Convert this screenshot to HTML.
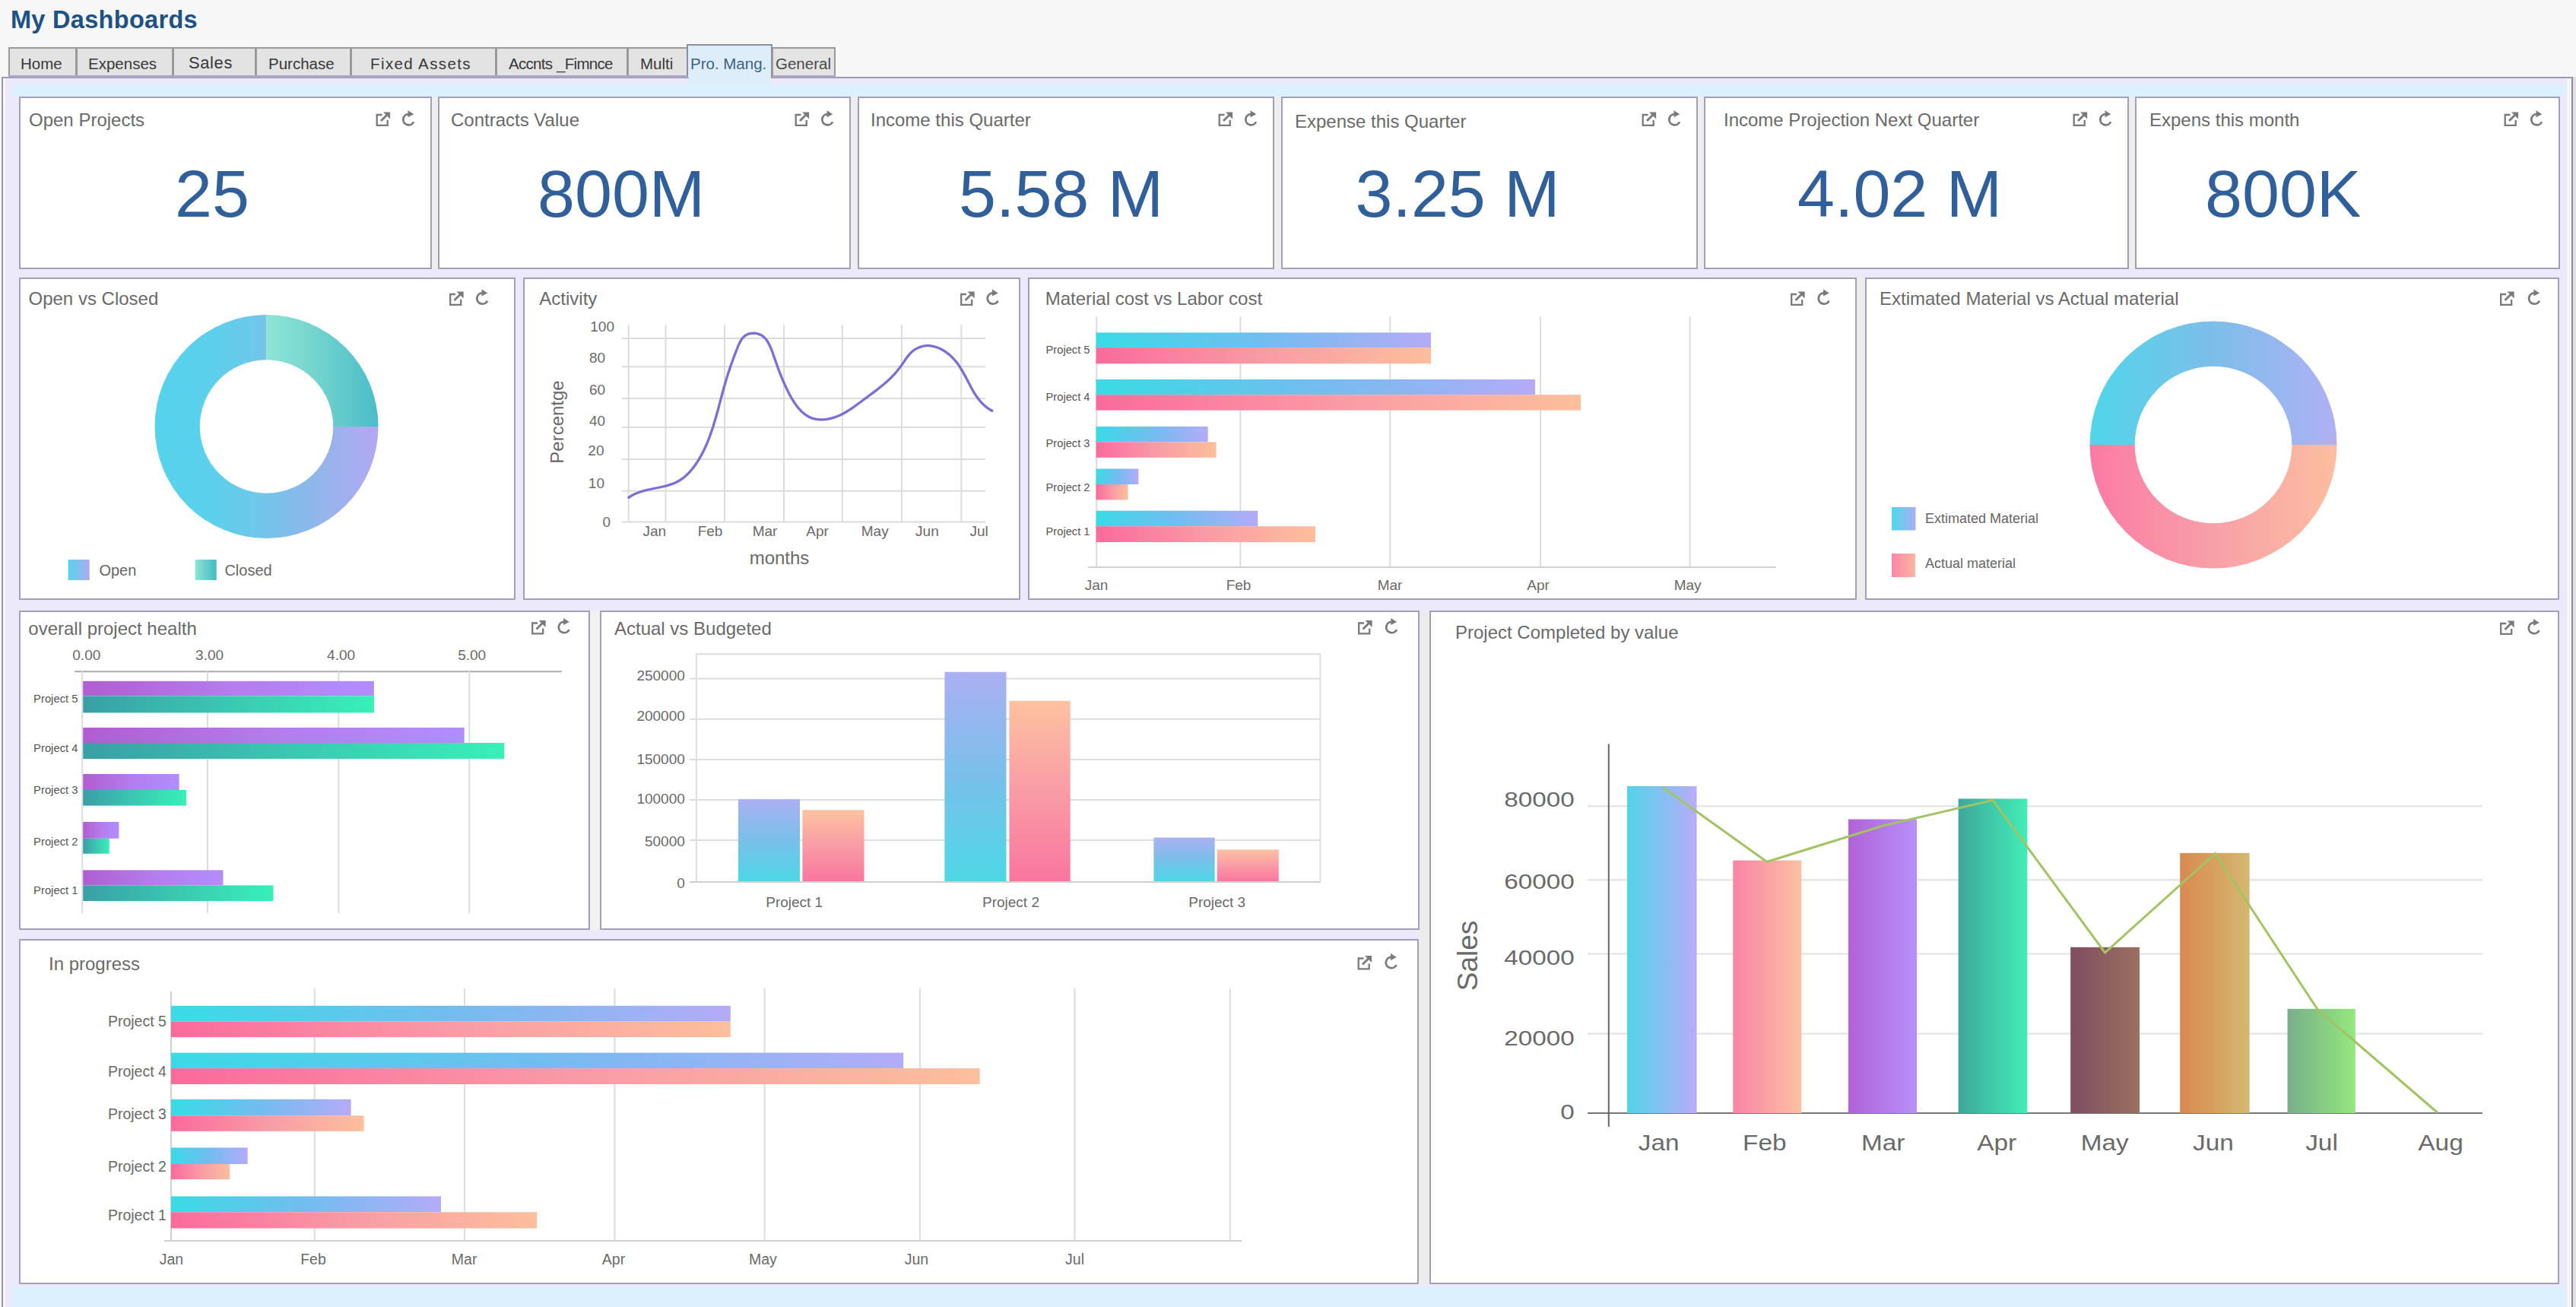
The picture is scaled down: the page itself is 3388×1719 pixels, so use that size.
<!DOCTYPE html><html><head><meta charset="utf-8"><title>My Dashboards</title><style>
*{box-sizing:border-box;margin:0;padding:0}
html,body{width:3388px;height:1719px;overflow:hidden;background:#f7f7f7;font-family:"Liberation Sans", Arial, sans-serif}
.abs{position:absolute}
.h1{position:absolute;left:14px;top:4px;font-size:32.5px;font-weight:bold;color:#1e5184;letter-spacing:0.3px;line-height:44px;white-space:nowrap}
.tab{position:absolute;top:62px;height:40px;background:#e3e3e3;border:2px solid #9a9a9a;border-bottom:none;font-size:20.5px;color:#383838;line-height:38px;white-space:nowrap}
.tab span{position:absolute;top:0.5px}
.panel{position:absolute;left:2px;top:101px;width:3382px;height:1630px;background:#ece9fb;border-top:2px solid #9b99b3;border-left:2px solid #9896ae;border-right:2px solid #8e8e9e}
.card{position:absolute;background:#fff;border:2px solid #a19fb9}
.ttl{position:absolute;font-size:24px;color:#6a6a6a;white-space:nowrap;line-height:24px}
.kpi{position:absolute;font-size:88px;color:#30609c;white-space:nowrap;line-height:88px}
svg{position:absolute;overflow:visible}
svg text{font-family:"Liberation Sans", Arial, sans-serif}

</style></head><body>
<div class="h1">My Dashboards</div>
<div class="panel"></div>
<div class="abs" style="left:16px;top:111px;width:3359px;height:16px;background:#ddf0fd"></div>
<div class="abs" style="left:16px;top:1692px;width:3359px;height:27px;background:#ddf0fd"></div>
<div class="abs" style="left:3376px;top:103px;width:6px;height:1616px;background:#f4f4f4"></div>
<div class="abs" style="left:3384px;top:101px;width:4px;height:1618px;background:#e2e2e2"></div>
<div class="abs" style="left:4px;top:103px;width:3px;height:1616px;background:#f8f7fe"></div>
<div class="tab" style="left:11px;width:90px"><span style="left:14px;">Home</span></div>
<div class="tab" style="left:100px;width:128px"><span style="left:14px;">Expenses</span></div>
<div class="tab" style="left:227px;width:110px"><span style="left:19px;font-size:22px;letter-spacing:0.6px;top:0px">Sales</span></div>
<div class="tab" style="left:336px;width:126px"><span style="left:15px;">Purchase</span></div>
<div class="tab" style="left:461px;width:192px"><span style="left:24px;letter-spacing:1.4px">Fixed Assets</span></div>
<div class="tab" style="left:652px;width:174px"><span style="left:15px;letter-spacing:-0.7px">Accnts<span style="position:static;letter-spacing:0"> </span>_Fimnce</span></div>
<div class="tab" style="left:825px;width:80px"><span style="left:15px;">Multi</span></div>
<div class="tab" style="left:903px;width:113px;top:58px;height:44px;background:#ddeefa;border-color:#8e8e9e;color:#3f6283;line-height:46px"><span style="left:3px;font-size:20.5px">Pro. Mang.</span></div>
<div class="tab" style="left:1015px;width:84px;background:#e4e4e4;color:#4a4a4a;font-size:20.5px"><span style="left:3px">General</span></div>
<div class="abs" style="left:906px;top:100px;width:108px;height:12px;background:#ddeefa"></div>
<div class="abs" style="left:11px;top:99px;width:893px;height:3px;background:#a9a6c8"></div>
<div class="abs" style="left:1016px;top:99px;width:83px;height:3px;background:#a9a6c8"></div>
<div class="abs" style="left:568px;top:127px;width:2799px;height:227px;background:#eeeeee"></div>
<div class="card" style="left:25px;top:127px;width:543px;height:227px;"></div>
<div class="ttl" style="left:38.0px;top:146.4px;font-size:24px;line-height:24px;color:#6a6a6a">Open Projects</div>
<div class="kpi" style="left:230px;top:211.0px">25</div>
<div class="card" style="left:576px;top:127px;width:543px;height:227px;"></div>
<div class="ttl" style="left:593.0px;top:146.4px;font-size:24px;line-height:24px;color:#6a6a6a">Contracts Value</div>
<div class="kpi" style="left:707px;top:211.0px">800M</div>
<div class="card" style="left:1128px;top:127px;width:548px;height:227px;"></div>
<div class="ttl" style="left:1145.0px;top:146.4px;font-size:24px;line-height:24px;color:#6a6a6a">Income this Quarter</div>
<div class="kpi" style="left:1261px;top:211.0px">5.58 M</div>
<div class="card" style="left:1685px;top:127px;width:548px;height:227px;"></div>
<div class="ttl" style="left:1703.0px;top:148.2px;font-size:24px;line-height:24px;color:#6a6a6a">Expense this Quarter</div>
<div class="kpi" style="left:1782.5px;top:211.0px">3.25 M</div>
<div class="card" style="left:2241px;top:127px;width:559px;height:227px;"></div>
<div class="ttl" style="left:2267.0px;top:146.4px;font-size:24px;line-height:24px;color:#6a6a6a">Income Projection Next Quarter</div>
<div class="kpi" style="left:2364px;top:211.0px">4.02 M</div>
<div class="card" style="left:2808px;top:127px;width:559px;height:227px;"></div>
<div class="ttl" style="left:2827.0px;top:146.4px;font-size:24px;line-height:24px;color:#6a6a6a">Expens this month</div>
<div class="kpi" style="left:2900px;top:211.0px">800K</div>
<div class="card" style="left:25px;top:365px;width:653px;height:424px;"></div>
<div class="ttl" style="left:37.5px;top:380.7px;font-size:24px;line-height:24px;color:#6a6a6a">Open vs Closed</div>
<div class="card" style="left:688px;top:365px;width:654px;height:424px;"></div>
<div class="ttl" style="left:709.3px;top:380.7px;font-size:24px;line-height:24px;color:#6a6a6a">Activity</div>
<div class="card" style="left:1352px;top:365px;width:1090px;height:424px;"></div>
<div class="ttl" style="left:1374.7px;top:380.7px;font-size:24px;line-height:24px;color:#6a6a6a">Material cost vs Labor cost</div>
<div class="abs" style="left:2442px;top:365px;width:11px;height:424px;background:#ededed"></div>
<div class="card" style="left:2453px;top:365px;width:913px;height:424px;"></div>
<div class="ttl" style="left:2472.0px;top:380.7px;font-size:24px;line-height:24px;color:#6a6a6a">Extimated Material vs Actual material</div>
<div class="abs" style="left:776px;top:803px;width:13px;height:420px;background:#f2f2f2"></div>
<div class="abs" style="left:1866px;top:803px;width:14px;height:886px;background:#ececec"></div>
<div class="card" style="left:25px;top:803px;width:751px;height:420px;"></div>
<div class="ttl" style="left:37.3px;top:814.7px;font-size:24px;line-height:24px;color:#6a6a6a">overall project health</div>
<div class="card" style="left:789px;top:803px;width:1078px;height:420px;"></div>
<div class="ttl" style="left:808.0px;top:815.3px;font-size:24px;line-height:24px;color:#6a6a6a">Actual vs Budgeted</div>
<div class="card" style="left:1880px;top:803px;width:1486px;height:886px;"></div>
<div class="ttl" style="left:1914.0px;top:820.2px;font-size:24px;line-height:24px;color:#6a6a6a">Project Completed by value</div>
<div class="card" style="left:25px;top:1235px;width:1841px;height:454px;"></div>
<div class="ttl" style="left:64.0px;top:1256.4px;font-size:24px;line-height:24px;color:#6a6a6a">In progress</div>
<svg style="left:0;top:0;pointer-events:none" width="3388" height="1719" viewBox="0 0 3388 1719">
<defs><linearGradient id="g1" x1="0" y1="0" x2="1" y2="0"><stop offset="0" stop-color="#55d4ec"/><stop offset="0.25" stop-color="#5cd0ec"/><stop offset="0.45" stop-color="#6ec8ea"/><stop offset="0.6" stop-color="#80bdea"/><stop offset="0.78" stop-color="#98b3ec"/><stop offset="1" stop-color="#b2a8f3"/></linearGradient><linearGradient id="g2" x1="0" y1="0" x2="1" y2="0"><stop offset="0" stop-color="#8fe5d6"/><stop offset="0.5" stop-color="#6fd2cd"/><stop offset="1" stop-color="#4bbdc8"/></linearGradient><linearGradient id="g3" x1="0" y1="0" x2="1" y2="0"><stop offset="0" stop-color="#55d4ec"/><stop offset="1" stop-color="#aeaaf1"/></linearGradient><linearGradient id="g4" x1="0" y1="0" x2="1" y2="0"><stop offset="0" stop-color="#8fe5d6"/><stop offset="1" stop-color="#45b9c3"/></linearGradient><linearGradient id="g5" x1="0" y1="0" x2="1" y2="0"><stop offset="0" stop-color="#3adbe6"/><stop offset="0.5" stop-color="#72bdf0"/><stop offset="1" stop-color="#b4abf8"/></linearGradient><linearGradient id="g6" x1="0" y1="0" x2="1" y2="0"><stop offset="0" stop-color="#fb6a9c"/><stop offset="0.5" stop-color="#f99ba6"/><stop offset="1" stop-color="#fdbf9c"/></linearGradient><linearGradient id="g7" x1="0" y1="0" x2="1" y2="0"><stop offset="0" stop-color="#3adbe6"/><stop offset="0.5" stop-color="#72bdf0"/><stop offset="1" stop-color="#b4abf8"/></linearGradient><linearGradient id="g8" x1="0" y1="0" x2="1" y2="0"><stop offset="0" stop-color="#fb6a9c"/><stop offset="0.5" stop-color="#f99ba6"/><stop offset="1" stop-color="#fdbf9c"/></linearGradient><linearGradient id="g9" x1="0" y1="0" x2="1" y2="0"><stop offset="0" stop-color="#3adbe6"/><stop offset="0.5" stop-color="#72bdf0"/><stop offset="1" stop-color="#b4abf8"/></linearGradient><linearGradient id="g10" x1="0" y1="0" x2="1" y2="0"><stop offset="0" stop-color="#fb6a9c"/><stop offset="0.5" stop-color="#f99ba6"/><stop offset="1" stop-color="#fdbf9c"/></linearGradient><linearGradient id="g11" x1="0" y1="0" x2="1" y2="0"><stop offset="0" stop-color="#3adbe6"/><stop offset="0.5" stop-color="#72bdf0"/><stop offset="1" stop-color="#b4abf8"/></linearGradient><linearGradient id="g12" x1="0" y1="0" x2="1" y2="0"><stop offset="0" stop-color="#fb6a9c"/><stop offset="0.5" stop-color="#f99ba6"/><stop offset="1" stop-color="#fdbf9c"/></linearGradient><linearGradient id="g13" x1="0" y1="0" x2="1" y2="0"><stop offset="0" stop-color="#3adbe6"/><stop offset="0.5" stop-color="#72bdf0"/><stop offset="1" stop-color="#b4abf8"/></linearGradient><linearGradient id="g14" x1="0" y1="0" x2="1" y2="0"><stop offset="0" stop-color="#fb6a9c"/><stop offset="0.5" stop-color="#f99ba6"/><stop offset="1" stop-color="#fdbf9c"/></linearGradient><linearGradient id="g15" x1="0" y1="0" x2="1" y2="0"><stop offset="0" stop-color="#50d6ea"/><stop offset="0.5" stop-color="#7dbeea"/><stop offset="1" stop-color="#b0b0f4"/></linearGradient><linearGradient id="g16" x1="0" y1="0" x2="1" y2="0"><stop offset="0" stop-color="#fb7aa5"/><stop offset="0.5" stop-color="#f8a0a8"/><stop offset="1" stop-color="#fcbea0"/></linearGradient><linearGradient id="g17" x1="0" y1="0" x2="1" y2="0"><stop offset="0" stop-color="#50d6ea"/><stop offset="1" stop-color="#aab0f2"/></linearGradient><linearGradient id="g18" x1="0" y1="0" x2="1" y2="0"><stop offset="0" stop-color="#fb86a8"/><stop offset="1" stop-color="#fcb5a0"/></linearGradient><linearGradient id="g19" x1="0" y1="0" x2="1" y2="0"><stop offset="0" stop-color="#b05dd0"/><stop offset="0.5" stop-color="#b57cec"/><stop offset="1" stop-color="#b28dfd"/></linearGradient><linearGradient id="g20" x1="0" y1="0" x2="1" y2="0"><stop offset="0" stop-color="#3a9fa6"/><stop offset="0.5" stop-color="#3bc8b2"/><stop offset="1" stop-color="#38f0b8"/></linearGradient><linearGradient id="g21" x1="0" y1="0" x2="1" y2="0"><stop offset="0" stop-color="#b05dd0"/><stop offset="0.5" stop-color="#b57cec"/><stop offset="1" stop-color="#b28dfd"/></linearGradient><linearGradient id="g22" x1="0" y1="0" x2="1" y2="0"><stop offset="0" stop-color="#3a9fa6"/><stop offset="0.5" stop-color="#3bc8b2"/><stop offset="1" stop-color="#38f0b8"/></linearGradient><linearGradient id="g23" x1="0" y1="0" x2="1" y2="0"><stop offset="0" stop-color="#b05dd0"/><stop offset="0.5" stop-color="#b57cec"/><stop offset="1" stop-color="#b28dfd"/></linearGradient><linearGradient id="g24" x1="0" y1="0" x2="1" y2="0"><stop offset="0" stop-color="#3a9fa6"/><stop offset="0.5" stop-color="#3bc8b2"/><stop offset="1" stop-color="#38f0b8"/></linearGradient><linearGradient id="g25" x1="0" y1="0" x2="1" y2="0"><stop offset="0" stop-color="#b05dd0"/><stop offset="0.5" stop-color="#b57cec"/><stop offset="1" stop-color="#b28dfd"/></linearGradient><linearGradient id="g26" x1="0" y1="0" x2="1" y2="0"><stop offset="0" stop-color="#3a9fa6"/><stop offset="0.5" stop-color="#3bc8b2"/><stop offset="1" stop-color="#38f0b8"/></linearGradient><linearGradient id="g27" x1="0" y1="0" x2="1" y2="0"><stop offset="0" stop-color="#b05dd0"/><stop offset="0.5" stop-color="#b57cec"/><stop offset="1" stop-color="#b28dfd"/></linearGradient><linearGradient id="g28" x1="0" y1="0" x2="1" y2="0"><stop offset="0" stop-color="#3a9fa6"/><stop offset="0.5" stop-color="#3bc8b2"/><stop offset="1" stop-color="#38f0b8"/></linearGradient><linearGradient id="g29" x1="0" y1="1" x2="0" y2="0"><stop offset="0" stop-color="#4ed8e6"/><stop offset="0.5" stop-color="#79c0ea"/><stop offset="1" stop-color="#abb0f2"/></linearGradient><linearGradient id="g30" x1="0" y1="1" x2="0" y2="0"><stop offset="0" stop-color="#f9769f"/><stop offset="0.5" stop-color="#f99ca6"/><stop offset="1" stop-color="#fdc2a0"/></linearGradient><linearGradient id="g31" x1="0" y1="1" x2="0" y2="0"><stop offset="0" stop-color="#4ed8e6"/><stop offset="0.5" stop-color="#79c0ea"/><stop offset="1" stop-color="#abb0f2"/></linearGradient><linearGradient id="g32" x1="0" y1="1" x2="0" y2="0"><stop offset="0" stop-color="#f9769f"/><stop offset="0.5" stop-color="#f99ca6"/><stop offset="1" stop-color="#fdc2a0"/></linearGradient><linearGradient id="g33" x1="0" y1="1" x2="0" y2="0"><stop offset="0" stop-color="#4ed8e6"/><stop offset="0.5" stop-color="#79c0ea"/><stop offset="1" stop-color="#abb0f2"/></linearGradient><linearGradient id="g34" x1="0" y1="1" x2="0" y2="0"><stop offset="0" stop-color="#f9769f"/><stop offset="0.5" stop-color="#f99ca6"/><stop offset="1" stop-color="#fdc2a0"/></linearGradient><linearGradient id="g35" x1="0" y1="0" x2="1" y2="0"><stop offset="0" stop-color="#52d4e8"/><stop offset="1" stop-color="#b8acfa"/></linearGradient><linearGradient id="g36" x1="0" y1="0" x2="1" y2="0"><stop offset="0" stop-color="#fa84a8"/><stop offset="1" stop-color="#fcc0a2"/></linearGradient><linearGradient id="g37" x1="0" y1="0" x2="1" y2="0"><stop offset="0" stop-color="#b062d8"/><stop offset="1" stop-color="#b790fa"/></linearGradient><linearGradient id="g38" x1="0" y1="0" x2="1" y2="0"><stop offset="0" stop-color="#3ea69c"/><stop offset="1" stop-color="#41eeb6"/></linearGradient><linearGradient id="g39" x1="0" y1="0" x2="1" y2="0"><stop offset="0" stop-color="#7c4e60"/><stop offset="1" stop-color="#9c7060"/></linearGradient><linearGradient id="g40" x1="0" y1="0" x2="1" y2="0"><stop offset="0" stop-color="#da8950"/><stop offset="1" stop-color="#d4b870"/></linearGradient><linearGradient id="g41" x1="0" y1="0" x2="1" y2="0"><stop offset="0" stop-color="#78ae8a"/><stop offset="1" stop-color="#94e87e"/></linearGradient><linearGradient id="g42" x1="0" y1="0" x2="1" y2="0"><stop offset="0" stop-color="#3adbe6"/><stop offset="0.5" stop-color="#72bdf0"/><stop offset="1" stop-color="#b4abf8"/></linearGradient><linearGradient id="g43" x1="0" y1="0" x2="1" y2="0"><stop offset="0" stop-color="#fb6a9c"/><stop offset="0.5" stop-color="#f99ba6"/><stop offset="1" stop-color="#fdbf9c"/></linearGradient><linearGradient id="g44" x1="0" y1="0" x2="1" y2="0"><stop offset="0" stop-color="#3adbe6"/><stop offset="0.5" stop-color="#72bdf0"/><stop offset="1" stop-color="#b4abf8"/></linearGradient><linearGradient id="g45" x1="0" y1="0" x2="1" y2="0"><stop offset="0" stop-color="#fb6a9c"/><stop offset="0.5" stop-color="#f99ba6"/><stop offset="1" stop-color="#fdbf9c"/></linearGradient><linearGradient id="g46" x1="0" y1="0" x2="1" y2="0"><stop offset="0" stop-color="#3adbe6"/><stop offset="0.5" stop-color="#72bdf0"/><stop offset="1" stop-color="#b4abf8"/></linearGradient><linearGradient id="g47" x1="0" y1="0" x2="1" y2="0"><stop offset="0" stop-color="#fb6a9c"/><stop offset="0.5" stop-color="#f99ba6"/><stop offset="1" stop-color="#fdbf9c"/></linearGradient><linearGradient id="g48" x1="0" y1="0" x2="1" y2="0"><stop offset="0" stop-color="#3adbe6"/><stop offset="0.5" stop-color="#72bdf0"/><stop offset="1" stop-color="#b4abf8"/></linearGradient><linearGradient id="g49" x1="0" y1="0" x2="1" y2="0"><stop offset="0" stop-color="#fb6a9c"/><stop offset="0.5" stop-color="#f99ba6"/><stop offset="1" stop-color="#fdbf9c"/></linearGradient><linearGradient id="g50" x1="0" y1="0" x2="1" y2="0"><stop offset="0" stop-color="#3adbe6"/><stop offset="0.5" stop-color="#72bdf0"/><stop offset="1" stop-color="#b4abf8"/></linearGradient><linearGradient id="g51" x1="0" y1="0" x2="1" y2="0"><stop offset="0" stop-color="#fb6a9c"/><stop offset="0.5" stop-color="#f99ba6"/><stop offset="1" stop-color="#fdbf9c"/></linearGradient></defs>
<g transform="translate(494.5,146.5) scale(1.0)" fill="none" stroke="#7a7a7a"><path d="M8 4.5 H1.2 V18.3 H15.2 V11.5" stroke-width="2.3"/><path d="M6.5 12.5 L16 3" stroke-width="2.8"/><path d="M9.5 1 H18.6 V10 Z" fill="#7a7a7a" stroke="none"/></g><path d="M536.87 150.03 A7.20 7.20 0 1 0 544.03 160.24" fill="none" stroke="#7a7a7a" stroke-width="2.80"/><path d="M536.50 145.20 L544.30 150.20 L536.50 154.20 Z" fill="#7a7a7a"/><g transform="translate(1045.5,146.5) scale(1.0)" fill="none" stroke="#7a7a7a"><path d="M8 4.5 H1.2 V18.3 H15.2 V11.5" stroke-width="2.3"/><path d="M6.5 12.5 L16 3" stroke-width="2.8"/><path d="M9.5 1 H18.6 V10 Z" fill="#7a7a7a" stroke="none"/></g><path d="M1087.87 150.03 A7.20 7.20 0 1 0 1095.03 160.24" fill="none" stroke="#7a7a7a" stroke-width="2.80"/><path d="M1087.50 145.20 L1095.30 150.20 L1087.50 154.20 Z" fill="#7a7a7a"/><g transform="translate(1602.5,146.5) scale(1.0)" fill="none" stroke="#7a7a7a"><path d="M8 4.5 H1.2 V18.3 H15.2 V11.5" stroke-width="2.3"/><path d="M6.5 12.5 L16 3" stroke-width="2.8"/><path d="M9.5 1 H18.6 V10 Z" fill="#7a7a7a" stroke="none"/></g><path d="M1644.87 150.03 A7.20 7.20 0 1 0 1652.03 160.24" fill="none" stroke="#7a7a7a" stroke-width="2.80"/><path d="M1644.50 145.20 L1652.30 150.20 L1644.50 154.20 Z" fill="#7a7a7a"/><g transform="translate(2159.5,146.5) scale(1.0)" fill="none" stroke="#7a7a7a"><path d="M8 4.5 H1.2 V18.3 H15.2 V11.5" stroke-width="2.3"/><path d="M6.5 12.5 L16 3" stroke-width="2.8"/><path d="M9.5 1 H18.6 V10 Z" fill="#7a7a7a" stroke="none"/></g><path d="M2201.87 150.03 A7.20 7.20 0 1 0 2209.03 160.24" fill="none" stroke="#7a7a7a" stroke-width="2.80"/><path d="M2201.50 145.20 L2209.30 150.20 L2201.50 154.20 Z" fill="#7a7a7a"/><g transform="translate(2726.5,146.5) scale(1.0)" fill="none" stroke="#7a7a7a"><path d="M8 4.5 H1.2 V18.3 H15.2 V11.5" stroke-width="2.3"/><path d="M6.5 12.5 L16 3" stroke-width="2.8"/><path d="M9.5 1 H18.6 V10 Z" fill="#7a7a7a" stroke="none"/></g><path d="M2768.87 150.03 A7.20 7.20 0 1 0 2776.03 160.24" fill="none" stroke="#7a7a7a" stroke-width="2.80"/><path d="M2768.50 145.20 L2776.30 150.20 L2768.50 154.20 Z" fill="#7a7a7a"/><g transform="translate(3293.5,146.5) scale(1.0)" fill="none" stroke="#7a7a7a"><path d="M8 4.5 H1.2 V18.3 H15.2 V11.5" stroke-width="2.3"/><path d="M6.5 12.5 L16 3" stroke-width="2.8"/><path d="M9.5 1 H18.6 V10 Z" fill="#7a7a7a" stroke="none"/></g><path d="M3335.87 150.03 A7.20 7.20 0 1 0 3343.03 160.24" fill="none" stroke="#7a7a7a" stroke-width="2.80"/><path d="M3335.50 145.20 L3343.30 150.20 L3335.50 154.20 Z" fill="#7a7a7a"/><g transform="translate(591.0,382.5) scale(1.0)" fill="none" stroke="#7a7a7a"><path d="M8 4.5 H1.2 V18.3 H15.2 V11.5" stroke-width="2.3"/><path d="M6.5 12.5 L16 3" stroke-width="2.8"/><path d="M9.5 1 H18.6 V10 Z" fill="#7a7a7a" stroke="none"/></g><path d="M633.87 385.33 A7.20 7.20 0 1 0 641.03 395.54" fill="none" stroke="#7a7a7a" stroke-width="2.80"/><path d="M633.50 380.50 L641.30 385.50 L633.50 389.50 Z" fill="#7a7a7a"/><path d="M497.50 561.00 A147 147 0 1 1 350.50 414.00 L350.50 473.30 A87.7 87.7 0 1 0 438.20 561.00 Z" fill="url(#g1)"/><path d="M350.50 414.00 A147 147 0 0 1 497.50 561.00 L438.20 561.00 A87.7 87.7 0 0 0 350.50 473.30 Z" fill="url(#g2)"/><rect x="89.7" y="736" width="28" height="27" fill="url(#g3)"/><rect x="256.7" y="736" width="28" height="27" fill="url(#g4)"/><text x="130.4" y="757.0" font-size="20" fill="#666" text-anchor="start" font-weight="normal" >Open</text><text x="295.4" y="757.0" font-size="20" fill="#666" text-anchor="start" font-weight="normal" >Closed</text><g transform="translate(1263.0,382.5) scale(1.0)" fill="none" stroke="#7a7a7a"><path d="M8 4.5 H1.2 V18.3 H15.2 V11.5" stroke-width="2.3"/><path d="M6.5 12.5 L16 3" stroke-width="2.8"/><path d="M9.5 1 H18.6 V10 Z" fill="#7a7a7a" stroke="none"/></g><path d="M1305.37 385.33 A7.20 7.20 0 1 0 1312.53 395.54" fill="none" stroke="#7a7a7a" stroke-width="2.80"/><path d="M1305.00 380.50 L1312.80 385.50 L1305.00 389.50 Z" fill="#7a7a7a"/><line x1="826.7" y1="427.0" x2="826.7" y2="686.6" stroke="#dcdcdc" stroke-width="2"/><line x1="875.5" y1="427.0" x2="875.5" y2="686.6" stroke="#dcdcdc" stroke-width="2"/><line x1="953.0" y1="427.0" x2="953.0" y2="686.6" stroke="#dcdcdc" stroke-width="2"/><line x1="1031.0" y1="427.0" x2="1031.0" y2="686.6" stroke="#dcdcdc" stroke-width="2"/><line x1="1107.8" y1="427.0" x2="1107.8" y2="686.6" stroke="#dcdcdc" stroke-width="2"/><line x1="1185.9" y1="427.0" x2="1185.9" y2="686.6" stroke="#dcdcdc" stroke-width="2"/><line x1="1264.3" y1="427.0" x2="1264.3" y2="686.6" stroke="#dcdcdc" stroke-width="2"/><line x1="818.0" y1="444.9" x2="1296.0" y2="444.9" stroke="#dcdcdc" stroke-width="2"/><line x1="818.0" y1="482.2" x2="1296.0" y2="482.2" stroke="#dcdcdc" stroke-width="2"/><line x1="818.0" y1="524.1" x2="1296.0" y2="524.1" stroke="#dcdcdc" stroke-width="2"/><line x1="818.0" y1="561.9" x2="1296.0" y2="561.9" stroke="#dcdcdc" stroke-width="2"/><line x1="818.0" y1="604.0" x2="1296.0" y2="604.0" stroke="#dcdcdc" stroke-width="2"/><line x1="818.0" y1="645.7" x2="1296.0" y2="645.7" stroke="#dcdcdc" stroke-width="2"/><line x1="818.0" y1="686.6" x2="1296.0" y2="686.6" stroke="#dcdcdc" stroke-width="2"/><text x="808.0" y="435.8" font-size="19" fill="#6a6a6a" text-anchor="end" font-weight="normal" >100</text><text x="796.2" y="477.2" font-size="19" fill="#6a6a6a" text-anchor="end" font-weight="normal" >80</text><text x="796.2" y="518.8" font-size="19" fill="#6a6a6a" text-anchor="end" font-weight="normal" >60</text><text x="796.2" y="560.4" font-size="19" fill="#6a6a6a" text-anchor="end" font-weight="normal" >40</text><text x="794.5" y="598.8" font-size="19" fill="#6a6a6a" text-anchor="end" font-weight="normal" >20</text><text x="795.0" y="642.2" font-size="19" fill="#6a6a6a" text-anchor="end" font-weight="normal" >10</text><text x="803.0" y="693.4" font-size="19" fill="#6a6a6a" text-anchor="end" font-weight="normal" >0</text><text x="860.8" y="705.2" font-size="19" fill="#6a6a6a" text-anchor="middle" font-weight="normal" >Jan</text><text x="934.0" y="705.2" font-size="19" fill="#6a6a6a" text-anchor="middle" font-weight="normal" >Feb</text><text x="1006.0" y="705.2" font-size="19" fill="#6a6a6a" text-anchor="middle" font-weight="normal" >Mar</text><text x="1075.0" y="705.2" font-size="19" fill="#6a6a6a" text-anchor="middle" font-weight="normal" >Apr</text><text x="1150.7" y="705.2" font-size="19" fill="#6a6a6a" text-anchor="middle" font-weight="normal" >May</text><text x="1219.4" y="705.2" font-size="19" fill="#6a6a6a" text-anchor="middle" font-weight="normal" >Jun</text><text x="1287.7" y="705.2" font-size="19" fill="#6a6a6a" text-anchor="middle" font-weight="normal" >Jul</text><text x="1025.0" y="741.5" font-size="24" fill="#6a6a6a" text-anchor="middle" font-weight="normal" >months</text><text x="0" y="0" font-size="24" fill="#6a6a6a" text-anchor="middle" transform="translate(740.6 555) rotate(-90)">Percentge</text><path d="M826.9 654.4 L830.7 651.9 L834.7 649.8 L839.0 648.0 L843.5 646.5 L848.1 645.2 L852.8 644.0 L857.6 643.0 L862.4 642.0 L867.3 641.0 L872.0 640.0 L876.7 638.8 L881.3 637.4 L885.8 635.9 L890.0 634.0 L894.0 631.8 L897.8 629.2 L901.4 626.3 L904.7 623.2 L907.9 619.8 L910.9 616.3 L913.7 612.5 L916.3 608.7 L918.8 604.8 L921.2 600.7 L923.5 596.6 L925.6 592.5 L927.6 588.2 L929.5 583.9 L931.3 579.6 L933.0 575.2 L934.6 570.7 L936.2 566.2 L937.7 561.7 L939.1 557.1 L940.5 552.6 L941.8 548.0 L943.1 543.4 L944.4 538.8 L945.6 534.1 L946.8 529.5 L948.0 524.9 L949.3 520.3 L950.5 515.8 L951.7 511.2 L953.0 506.7 L954.3 502.3 L955.6 497.8 L957.0 493.4 L958.4 489.0 L959.9 484.6 L961.4 480.1 L963.0 475.7 L964.6 471.2 L966.3 466.7 L968.1 462.1 L969.9 457.5 L971.8 452.9 L974.0 448.5 L976.6 444.6 L979.9 441.5 L983.7 439.4 L988.1 438.3 L992.6 438.2 L997.0 439.0 L1001.1 440.7 L1004.7 443.3 L1007.8 446.7 L1010.4 450.7 L1012.6 455.1 L1014.6 459.7 L1016.4 464.5 L1018.0 469.3 L1019.7 473.9 L1021.3 478.4 L1022.8 482.7 L1024.4 487.0 L1026.0 491.3 L1027.7 495.5 L1029.4 499.6 L1031.2 503.8 L1033.1 508.0 L1035.1 512.2 L1037.3 516.5 L1039.6 520.9 L1042.0 525.2 L1044.7 529.4 L1047.5 533.4 L1050.5 537.2 L1053.7 540.7 L1057.2 543.8 L1060.9 546.5 L1064.8 548.7 L1069.0 550.4 L1073.5 551.4 L1078.2 551.9 L1083.0 551.9 L1087.7 551.3 L1092.4 550.4 L1096.9 549.1 L1101.3 547.5 L1105.6 545.7 L1109.8 543.5 L1113.9 541.2 L1117.9 538.6 L1121.9 536.0 L1125.8 533.2 L1129.7 530.3 L1133.5 527.5 L1137.3 524.6 L1141.2 521.8 L1145.0 518.9 L1148.7 516.1 L1152.5 513.3 L1156.2 510.4 L1159.8 507.5 L1163.4 504.5 L1166.9 501.4 L1170.3 498.3 L1173.6 495.0 L1176.8 491.6 L1179.9 488.0 L1182.9 484.3 L1185.7 480.4 L1188.5 476.4 L1191.2 472.3 L1194.1 468.4 L1197.2 464.8 L1200.6 461.6 L1204.5 458.9 L1208.7 456.9 L1213.1 455.5 L1217.6 454.7 L1222.3 454.7 L1226.9 455.3 L1231.4 456.5 L1235.8 458.3 L1240.1 460.5 L1244.2 463.1 L1248.1 466.1 L1251.7 469.3 L1255.0 472.8 L1258.1 476.5 L1260.9 480.3 L1263.5 484.3 L1265.9 488.3 L1268.2 492.5 L1270.5 496.6 L1272.7 500.8 L1274.9 505.0 L1277.1 509.2 L1279.3 513.3 L1281.7 517.3 L1284.3 521.2 L1287.0 524.9 L1289.9 528.5 L1293.1 531.8 L1296.6 534.9 L1300.4 537.8 L1304.7 540.3" fill="none" stroke="#7d6ed6" stroke-width="3.3" stroke-linecap="round" stroke-linejoin="round"/><g transform="translate(2355.0,382.5) scale(1.0)" fill="none" stroke="#7a7a7a"><path d="M8 4.5 H1.2 V18.3 H15.2 V11.5" stroke-width="2.3"/><path d="M6.5 12.5 L16 3" stroke-width="2.8"/><path d="M9.5 1 H18.6 V10 Z" fill="#7a7a7a" stroke="none"/></g><path d="M2398.37 385.33 A7.20 7.20 0 1 0 2405.53 395.54" fill="none" stroke="#7a7a7a" stroke-width="2.80"/><path d="M2398.00 380.50 L2405.80 385.50 L2398.00 389.50 Z" fill="#7a7a7a"/><line x1="1442.2" y1="416.5" x2="1442.2" y2="746.0" stroke="#dcdcdc" stroke-width="2"/><line x1="1631.3" y1="416.5" x2="1631.3" y2="746.0" stroke="#dcdcdc" stroke-width="2"/><line x1="1828.3" y1="416.5" x2="1828.3" y2="746.0" stroke="#dcdcdc" stroke-width="2"/><line x1="2026.0" y1="416.5" x2="2026.0" y2="746.0" stroke="#dcdcdc" stroke-width="2"/><line x1="2222.6" y1="416.5" x2="2222.6" y2="746.0" stroke="#dcdcdc" stroke-width="2"/><line x1="1431.0" y1="746.0" x2="2335.7" y2="746.0" stroke="#d0d0d0" stroke-width="2"/><text x="1442.0" y="775.5" font-size="19" fill="#6a6a6a" text-anchor="middle" font-weight="normal" >Jan</text><text x="1629.0" y="775.5" font-size="19" fill="#6a6a6a" text-anchor="middle" font-weight="normal" >Feb</text><text x="1828.0" y="775.5" font-size="19" fill="#6a6a6a" text-anchor="middle" font-weight="normal" >Mar</text><text x="2023.0" y="775.5" font-size="19" fill="#6a6a6a" text-anchor="middle" font-weight="normal" >Apr</text><text x="2219.6" y="775.5" font-size="19" fill="#6a6a6a" text-anchor="middle" font-weight="normal" >May</text><text x="1433.5" y="465.3" font-size="14.7" fill="#555" text-anchor="end" font-weight="normal" >Project 5</text><rect x="1441.5" y="437.4" width="440.5" height="19.8" fill="url(#g5)"/><rect x="1441.5" y="457.1" width="440.5" height="21.2" fill="url(#g6)"/><text x="1433.5" y="527.0" font-size="14.7" fill="#555" text-anchor="end" font-weight="normal" >Project 4</text><rect x="1441.5" y="499.0" width="577.5" height="20.2" fill="url(#g7)"/><rect x="1441.5" y="519.2" width="637.5" height="20.4" fill="url(#g8)"/><text x="1433.5" y="588.3" font-size="14.7" fill="#555" text-anchor="end" font-weight="normal" >Project 3</text><rect x="1441.5" y="561.0" width="147.2" height="20.4" fill="url(#g9)"/><rect x="1441.5" y="581.4" width="158.1" height="20.4" fill="url(#g10)"/><text x="1433.5" y="645.7" font-size="14.7" fill="#555" text-anchor="end" font-weight="normal" >Project 2</text><rect x="1441.5" y="616.5" width="55.9" height="20.5" fill="url(#g11)"/><rect x="1441.5" y="637.0" width="42.0" height="20.4" fill="url(#g12)"/><text x="1433.5" y="703.6" font-size="14.7" fill="#555" text-anchor="end" font-weight="normal" >Project 1</text><rect x="1441.5" y="671.7" width="212.8" height="20.5" fill="url(#g13)"/><rect x="1441.5" y="692.2" width="288.5" height="20.8" fill="url(#g14)"/><g transform="translate(3288.0,382.5) scale(1.0)" fill="none" stroke="#7a7a7a"><path d="M8 4.5 H1.2 V18.3 H15.2 V11.5" stroke-width="2.3"/><path d="M6.5 12.5 L16 3" stroke-width="2.8"/><path d="M9.5 1 H18.6 V10 Z" fill="#7a7a7a" stroke="none"/></g><path d="M3332.67 385.33 A7.20 7.20 0 1 0 3339.83 395.54" fill="none" stroke="#7a7a7a" stroke-width="2.80"/><path d="M3332.30 380.50 L3340.10 385.50 L3332.30 389.50 Z" fill="#7a7a7a"/><path d="M2748.50 585.00 A162.5 162.5 0 0 1 3073.50 585.00 L3014.30 585.00 A103.3 103.3 0 0 0 2807.70 585.00 Z" fill="url(#g15)"/><path d="M3073.50 585.00 A162.5 162.5 0 0 1 2748.50 585.00 L2807.70 585.00 A103.3 103.3 0 0 0 3014.30 585.00 Z" fill="url(#g16)"/><rect x="2488" y="667" width="31.5" height="30.5" fill="url(#g17)"/><rect x="2488" y="728" width="31" height="31" fill="url(#g18)"/><text x="2532.0" y="687.8" font-size="18" fill="#666" text-anchor="start" font-weight="normal" >Extimated Material</text><text x="2532.0" y="746.8" font-size="18" fill="#666" text-anchor="start" font-weight="normal" >Actual material</text><g transform="translate(699.0,815.0) scale(1.0)" fill="none" stroke="#7a7a7a"><path d="M8 4.5 H1.2 V18.3 H15.2 V11.5" stroke-width="2.3"/><path d="M6.5 12.5 L16 3" stroke-width="2.8"/><path d="M9.5 1 H18.6 V10 Z" fill="#7a7a7a" stroke="none"/></g><path d="M741.37 817.83 A7.20 7.20 0 1 0 748.53 828.04" fill="none" stroke="#7a7a7a" stroke-width="2.80"/><path d="M741.00 813.00 L748.80 818.00 L741.00 822.00 Z" fill="#7a7a7a"/><text x="113.8" y="868.4" font-size="19" fill="#6a6a6a" text-anchor="middle" font-weight="normal" >0.00</text><text x="275.6" y="868.4" font-size="19" fill="#6a6a6a" text-anchor="middle" font-weight="normal" >3.00</text><text x="448.6" y="868.4" font-size="19" fill="#6a6a6a" text-anchor="middle" font-weight="normal" >4.00</text><text x="620.7" y="868.4" font-size="19" fill="#6a6a6a" text-anchor="middle" font-weight="normal" >5.00</text><line x1="98.0" y1="883.2" x2="738.8" y2="883.2" stroke="#ababab" stroke-width="2"/><line x1="108.2" y1="883.0" x2="108.2" y2="1201.0" stroke="#dcdcdc" stroke-width="2"/><line x1="272.9" y1="883.0" x2="272.9" y2="1201.0" stroke="#dcdcdc" stroke-width="2"/><line x1="445.3" y1="883.0" x2="445.3" y2="1201.0" stroke="#dcdcdc" stroke-width="2"/><line x1="617.3" y1="883.0" x2="617.3" y2="1201.0" stroke="#dcdcdc" stroke-width="2"/><text x="102.5" y="924.1" font-size="14.8" fill="#555" text-anchor="end" font-weight="normal" >Project 5</text><rect x="109.2" y="895.8" width="382.7" height="19.7" fill="url(#g19)"/><rect x="109.2" y="915.5" width="382.7" height="21.9" fill="url(#g20)"/><text x="102.5" y="989.0" font-size="14.8" fill="#555" text-anchor="end" font-weight="normal" >Project 4</text><rect x="109.2" y="957.0" width="501.5" height="20.0" fill="url(#g21)"/><rect x="109.2" y="977.0" width="554.1" height="21.0" fill="url(#g22)"/><text x="102.5" y="1044.3" font-size="14.8" fill="#555" text-anchor="end" font-weight="normal" >Project 3</text><rect x="109.2" y="1018.0" width="126.4" height="21.0" fill="url(#g23)"/><rect x="109.2" y="1039.0" width="135.8" height="20.6" fill="url(#g24)"/><text x="102.5" y="1112.3" font-size="14.8" fill="#555" text-anchor="end" font-weight="normal" >Project 2</text><rect x="109.2" y="1081.0" width="47.2" height="21.8" fill="url(#g25)"/><rect x="109.2" y="1102.8" width="34.6" height="20.0" fill="url(#g26)"/><text x="102.5" y="1176.3" font-size="14.8" fill="#555" text-anchor="end" font-weight="normal" >Project 1</text><rect x="109.2" y="1144.4" width="184.3" height="20.0" fill="url(#g27)"/><rect x="109.2" y="1164.4" width="250.2" height="20.6" fill="url(#g28)"/><g transform="translate(1786.0,815.0) scale(1.0)" fill="none" stroke="#7a7a7a"><path d="M8 4.5 H1.2 V18.3 H15.2 V11.5" stroke-width="2.3"/><path d="M6.5 12.5 L16 3" stroke-width="2.8"/><path d="M9.5 1 H18.6 V10 Z" fill="#7a7a7a" stroke="none"/></g><path d="M1829.77 817.83 A7.20 7.20 0 1 0 1836.93 828.04" fill="none" stroke="#7a7a7a" stroke-width="2.80"/><path d="M1829.40 813.00 L1837.20 818.00 L1829.40 822.00 Z" fill="#7a7a7a"/><rect x="915.8" y="860.3" width="820.6" height="299.7" fill="none" stroke="#dedede" stroke-width="2"/><line x1="907.0" y1="892.4" x2="1736.4" y2="892.4" stroke="#dedede" stroke-width="2"/><line x1="907.0" y1="945.7" x2="1736.4" y2="945.7" stroke="#dedede" stroke-width="2"/><line x1="907.0" y1="999.0" x2="1736.4" y2="999.0" stroke="#dedede" stroke-width="2"/><line x1="907.0" y1="1052.0" x2="1736.4" y2="1052.0" stroke="#dedede" stroke-width="2"/><line x1="907.0" y1="1105.0" x2="1736.4" y2="1105.0" stroke="#dedede" stroke-width="2"/><line x1="907.0" y1="1160.0" x2="1736.4" y2="1160.0" stroke="#cfcfcf" stroke-width="2"/><text x="900.8" y="894.8" font-size="19" fill="#6a6a6a" text-anchor="end" font-weight="normal" >250000</text><text x="900.8" y="948.3" font-size="19" fill="#6a6a6a" text-anchor="end" font-weight="normal" >200000</text><text x="900.8" y="1004.6" font-size="19" fill="#6a6a6a" text-anchor="end" font-weight="normal" >150000</text><text x="900.8" y="1056.8" font-size="19" fill="#6a6a6a" text-anchor="end" font-weight="normal" >100000</text><text x="900.8" y="1112.6" font-size="19" fill="#6a6a6a" text-anchor="end" font-weight="normal" >50000</text><text x="900.8" y="1167.8" font-size="19" fill="#6a6a6a" text-anchor="end" font-weight="normal" >0</text><rect x="970.9" y="1051.2" width="81.1" height="107.8" fill="url(#g29)"/><rect x="1055.4" y="1065.3" width="81.1" height="93.7" fill="url(#g30)"/><rect x="1242.4" y="883.8" width="81.1" height="275.2" fill="url(#g31)"/><rect x="1327.4" y="921.8" width="80.3" height="237.2" fill="url(#g32)"/><rect x="1517.4" y="1101.6" width="80.3" height="57.4" fill="url(#g33)"/><rect x="1600.7" y="1117.4" width="81.1" height="41.6" fill="url(#g34)"/><text x="1044.7" y="1192.5" font-size="19" fill="#6a6a6a" text-anchor="middle" font-weight="normal" >Project 1</text><text x="1329.5" y="1192.5" font-size="19" fill="#6a6a6a" text-anchor="middle" font-weight="normal" >Project 2</text><text x="1600.7" y="1192.5" font-size="19" fill="#6a6a6a" text-anchor="middle" font-weight="normal" >Project 3</text><g transform="translate(3288.0,815.5) scale(1.0)" fill="none" stroke="#7a7a7a"><path d="M8 4.5 H1.2 V18.3 H15.2 V11.5" stroke-width="2.3"/><path d="M6.5 12.5 L16 3" stroke-width="2.8"/><path d="M9.5 1 H18.6 V10 Z" fill="#7a7a7a" stroke="none"/></g><path d="M3332.37 818.83 A7.20 7.20 0 1 0 3339.53 829.04" fill="none" stroke="#7a7a7a" stroke-width="2.80"/><path d="M3332.00 814.00 L3339.80 819.00 L3332.00 823.00 Z" fill="#7a7a7a"/><line x1="2088.0" y1="1060.2" x2="3265.0" y2="1060.2" stroke="#e6e6e6" stroke-width="2.5"/><line x1="2088.0" y1="1157.2" x2="3265.0" y2="1157.2" stroke="#e6e6e6" stroke-width="2.5"/><line x1="2088.0" y1="1254.5" x2="3265.0" y2="1254.5" stroke="#e6e6e6" stroke-width="2.5"/><line x1="2088.0" y1="1359.4" x2="3265.0" y2="1359.4" stroke="#e6e6e6" stroke-width="2.5"/><line x1="2088.0" y1="1464.0" x2="3265.0" y2="1464.0" stroke="#777" stroke-width="2"/><line x1="2115.8" y1="978.5" x2="2115.8" y2="1482.0" stroke="#666" stroke-width="2"/><text x="0" y="0" font-size="28" fill="#6a6a6a" text-anchor="end" transform="translate(2070.8 1061.1) scale(1.19 1)">80000</text><text x="0" y="0" font-size="28" fill="#6a6a6a" text-anchor="end" transform="translate(2070.8 1169.1) scale(1.19 1)">60000</text><text x="0" y="0" font-size="28" fill="#6a6a6a" text-anchor="end" transform="translate(2070.8 1268.9) scale(1.19 1)">40000</text><text x="0" y="0" font-size="28" fill="#6a6a6a" text-anchor="end" transform="translate(2070.8 1374.8) scale(1.19 1)">20000</text><text x="0" y="0" font-size="28" fill="#6a6a6a" text-anchor="end" transform="translate(2070.8 1471.8) scale(1.19 1)">0</text><text x="0" y="0" font-size="37" fill="#6a6a6a" text-anchor="middle" transform="translate(1943 1257) rotate(-90)">Sales</text><rect x="2140.0" y="1034.0" width="91.5" height="430.0" fill="url(#g35)"/><rect x="2279.3" y="1131.6" width="90.0" height="332.4" fill="url(#g36)"/><rect x="2431.0" y="1077.5" width="90.0" height="386.5" fill="url(#g37)"/><rect x="2575.7" y="1050.5" width="90.7" height="413.5" fill="url(#g38)"/><rect x="2723.2" y="1245.8" width="90.8" height="218.2" fill="url(#g39)"/><rect x="2867.2" y="1121.9" width="91.4" height="342.1" fill="url(#g40)"/><rect x="3008.5" y="1326.9" width="89.3" height="137.1" fill="url(#g41)"/><text x="0" y="0" font-size="29" fill="#6a6a6a" text-anchor="middle" transform="translate(2181.6 1513.0) scale(1.15 1)">Jan</text><text x="0" y="0" font-size="29" fill="#6a6a6a" text-anchor="middle" transform="translate(2320.8 1513.0) scale(1.15 1)">Feb</text><text x="0" y="0" font-size="29" fill="#6a6a6a" text-anchor="middle" transform="translate(2476.6 1513.0) scale(1.15 1)">Mar</text><text x="0" y="0" font-size="29" fill="#6a6a6a" text-anchor="middle" transform="translate(2626.2 1513.0) scale(1.15 1)">Apr</text><text x="0" y="0" font-size="29" fill="#6a6a6a" text-anchor="middle" transform="translate(2768.2 1513.0) scale(1.15 1)">May</text><text x="0" y="0" font-size="29" fill="#6a6a6a" text-anchor="middle" transform="translate(2910.9 1513.0) scale(1.15 1)">Jun</text><text x="0" y="0" font-size="29" fill="#6a6a6a" text-anchor="middle" transform="translate(3053.5 1513.0) scale(1.15 1)">Jul</text><text x="0" y="0" font-size="29" fill="#6a6a6a" text-anchor="middle" transform="translate(3210.0 1513.0) scale(1.15 1)">Aug</text><polyline points="2187,1035.5 2323.8,1133.5 2476.6,1086 2621,1052.4 2768.5,1253 2913.5,1122.5 3048,1327.5 3206,1463.5" fill="none" stroke="#a2c462" stroke-width="3"/><g transform="translate(1785.5,1256.0) scale(1.0)" fill="none" stroke="#7a7a7a"><path d="M8 4.5 H1.2 V18.3 H15.2 V11.5" stroke-width="2.3"/><path d="M6.5 12.5 L16 3" stroke-width="2.8"/><path d="M9.5 1 H18.6 V10 Z" fill="#7a7a7a" stroke="none"/></g><path d="M1829.37 1258.83 A7.20 7.20 0 1 0 1836.53 1269.04" fill="none" stroke="#7a7a7a" stroke-width="2.80"/><path d="M1829.00 1254.00 L1836.80 1259.00 L1829.00 1263.00 Z" fill="#7a7a7a"/><line x1="225.0" y1="1303.7" x2="225.0" y2="1632.0" stroke="#cfcfcf" stroke-width="2"/><line x1="413.8" y1="1300.0" x2="413.8" y2="1632.0" stroke="#dcdcdc" stroke-width="2"/><line x1="610.9" y1="1300.0" x2="610.9" y2="1632.0" stroke="#dcdcdc" stroke-width="2"/><line x1="808.4" y1="1300.0" x2="808.4" y2="1632.0" stroke="#dcdcdc" stroke-width="2"/><line x1="1005.6" y1="1300.0" x2="1005.6" y2="1632.0" stroke="#dcdcdc" stroke-width="2"/><line x1="1209.9" y1="1300.0" x2="1209.9" y2="1632.0" stroke="#dcdcdc" stroke-width="2"/><line x1="1413.5" y1="1300.0" x2="1413.5" y2="1632.0" stroke="#dcdcdc" stroke-width="2"/><line x1="1617.8" y1="1300.0" x2="1617.8" y2="1632.0" stroke="#dcdcdc" stroke-width="2"/><line x1="216.0" y1="1632.0" x2="1633.7" y2="1632.0" stroke="#d0d0d0" stroke-width="2"/><text x="225.5" y="1663.0" font-size="19.5" fill="#6a6a6a" text-anchor="middle" font-weight="normal" >Jan</text><text x="412.0" y="1663.0" font-size="19.5" fill="#6a6a6a" text-anchor="middle" font-weight="normal" >Feb</text><text x="610.6" y="1663.0" font-size="19.5" fill="#6a6a6a" text-anchor="middle" font-weight="normal" >Mar</text><text x="807.0" y="1663.0" font-size="19.5" fill="#6a6a6a" text-anchor="middle" font-weight="normal" >Apr</text><text x="1003.4" y="1663.0" font-size="19.5" fill="#6a6a6a" text-anchor="middle" font-weight="normal" >May</text><text x="1205.5" y="1663.0" font-size="19.5" fill="#6a6a6a" text-anchor="middle" font-weight="normal" >Jun</text><text x="1413.5" y="1663.0" font-size="19.5" fill="#6a6a6a" text-anchor="middle" font-weight="normal" >Jul</text><text x="218.9" y="1350.3" font-size="19.5" fill="#6a6a6a" text-anchor="end" font-weight="normal" >Project 5</text><rect x="225.0" y="1322.8" width="735.8" height="20.8" fill="url(#g42)"/><rect x="225.0" y="1343.6" width="735.8" height="20.5" fill="url(#g43)"/><text x="218.9" y="1415.7" font-size="19.5" fill="#6a6a6a" text-anchor="end" font-weight="normal" >Project 4</text><rect x="225.0" y="1384.6" width="963.2" height="20.5" fill="url(#g44)"/><rect x="225.0" y="1405.1" width="1063.6" height="20.9" fill="url(#g45)"/><text x="218.9" y="1471.5" font-size="19.5" fill="#6a6a6a" text-anchor="end" font-weight="normal" >Project 3</text><rect x="225.0" y="1445.8" width="236.6" height="21.5" fill="url(#g46)"/><rect x="225.0" y="1467.3" width="253.5" height="20.5" fill="url(#g47)"/><text x="218.9" y="1540.9" font-size="19.5" fill="#6a6a6a" text-anchor="end" font-weight="normal" >Project 2</text><rect x="225.0" y="1509.4" width="100.7" height="21.6" fill="url(#g48)"/><rect x="225.0" y="1531.0" width="77.3" height="20.1" fill="url(#g49)"/><text x="218.9" y="1604.5" font-size="19.5" fill="#6a6a6a" text-anchor="end" font-weight="normal" >Project 1</text><rect x="225.0" y="1573.4" width="355.0" height="20.9" fill="url(#g50)"/><rect x="225.0" y="1594.3" width="481.2" height="21.2" fill="url(#g51)"/>
</svg>
</body></html>
